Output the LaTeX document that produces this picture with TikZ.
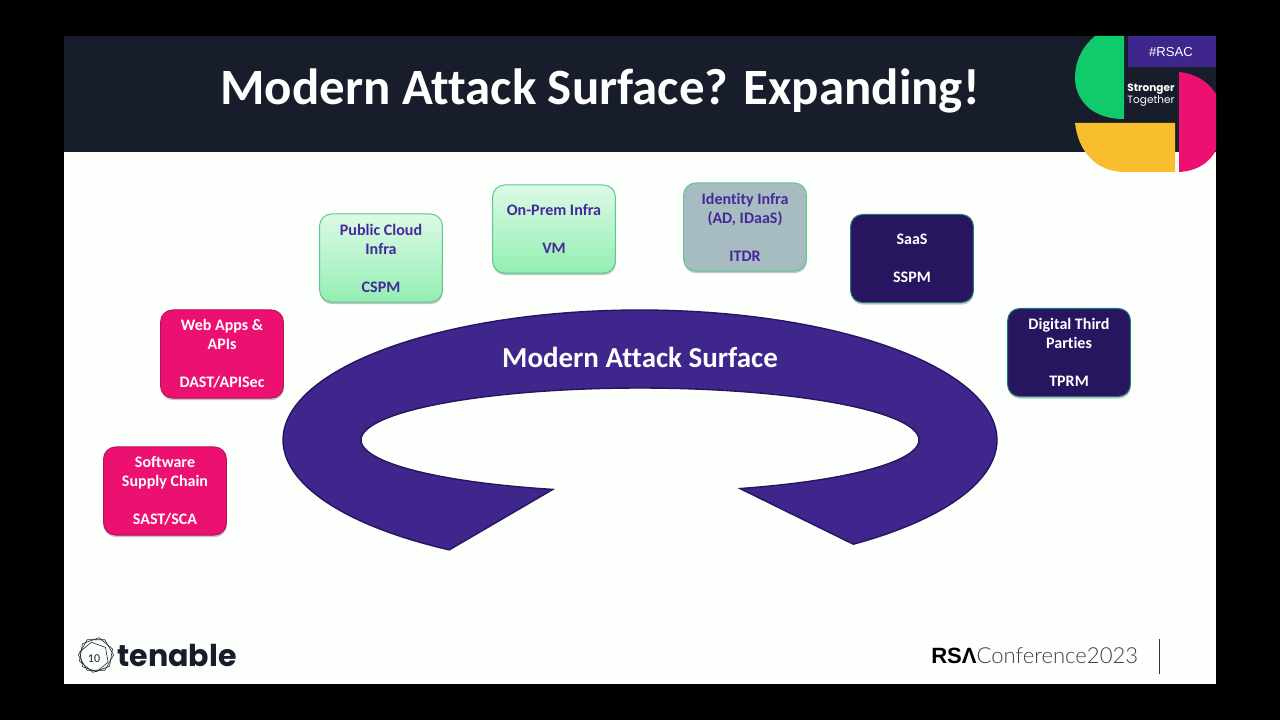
\documentclass[tikz,border=0pt]{standalone}
\usepackage{fontspec}
\setmainfont[Ligatures=NoCommon]{Carlito}
\newfontfamily\logofont{Poppins}
\newfontfamily\rsacfont{Liberation Sans}
\newfontfamily\conffont{Lato Light}
\usetikzlibrary{shadows,shapes.geometric}
\definecolor{slidebg}{HTML}{FCFFFC}
\definecolor{headbg}{HTML}{181D2B}
\definecolor{rsapurple}{HTML}{3F268C}
\definecolor{rsadark}{HTML}{27155F}
\definecolor{rsapink}{HTML}{EC1170}
\definecolor{rsagreen}{HTML}{10CB6C}
\definecolor{rsayellow}{HTML}{F8BE2E}
\definecolor{boxedge}{HTML}{5CC890}
\definecolor{boxmint}{HTML}{93EEB2}
\definecolor{boxgrey}{HTML}{A7BCC0}
\definecolor{boxteal}{HTML}{1E7C7A}
\definecolor{boxtext}{HTML}{47289A}
\tikzset{
  surfacebox/.style={rectangle,rounded corners=0.3cm,minimum width=3.07cm,minimum height=2.2cm,
    align=center,font=\fontsize{11.4}{13.5}\selectfont\bfseries,line width=0.7pt,
    drop shadow={shadow xshift=0.3pt,shadow yshift=-1.5pt,opacity=0.45}},
  pinkbox/.style={surfacebox,draw=rsapink!80!black,fill=rsapink,text=white},
  greenbox/.style={surfacebox,draw=boxedge,top color=slidebg!70!boxmint,bottom color=boxmint,text=boxtext},
  greybox/.style={surfacebox,draw=boxedge,fill=boxgrey,text=boxtext},
  darkbox/.style={surfacebox,draw=boxteal,fill=rsadark,text=white},
  hexlogo/.style={regular polygon,regular polygon sides=6,minimum size=0.88cm,inner sep=0pt,draw=headbg,line width=0.4pt},
}
\begin{document}
\begin{tikzpicture}[x=0.025cm,y=-0.025cm]
\useasboundingbox (0,0) rectangle (1280,720);
\fill[black] (0,0) rectangle (1280,720);
\fill[slidebg] (64,36) rectangle (1216,684);
\fill[headbg] (64,36) rectangle (1216,152);
\node[text=white,font=\fontsize{36.2}{40}\selectfont\bfseries] (title) at (600,91) {Modern Attack Surface? Expanding!};

\fill[rsagreen] (1124,36) -- (1095,36) .. controls (1083,46) and (1075,60) .. (1075,78) .. controls (1075,96) and (1088,119) .. (1124,119) -- cycle;
\fill[rsapurple] (1128,36) rectangle (1216,67);
\node[text=white,font=\rsacfont\fontsize{9.3}{11}\selectfont] (rsac) at (1171,52.5) {\#RSAC};
\fill[rsayellow] (1075,123) -- (1175,123) -- (1175,172) -- (1125,172) .. controls (1095,172) and (1078,150) .. (1075,123) -- cycle;
\fill[rsapink] (1179,72) .. controls (1198,74) and (1210,84) .. (1216,94) -- (1216,150) .. controls (1210,162) and (1198,171) .. (1179,172) -- cycle;
\node[text=white,align=center,font=\logofont\fontsize{7.5}{7.2}\selectfont] (stronger) at (1151,95) {\textbf{Stronger}\\Together};

\fill[rsapurple,draw=rsadark,line width=1pt] plot[domain=53.3:-237.7,samples=120] ({640+357*cos(\x)},{440+130*sin(\x)})
  -- plot[domain=-251.8:69,samples=120] ({640+279*cos(\x)},{440+52*sin(\x)}) -- cycle;
\node[text=white,font=\fontsize{20.6}{24}\selectfont\bfseries] (surface) at (640,357) {Modern Attack Surface};

\node[pinkbox] (chain) at (165,491) {Software\\Supply Chain\\ \\SAST/SCA};
\node[pinkbox] (webapps) at (222,354) {Web Apps \&\\APIs\\ \\DAST/APISec};
\node[greenbox] (cloud) at (381,258) {Public Cloud\\Infra\\ \\CSPM};
\node[greenbox] (onprem) at (554,229) {On-Prem Infra\\ \\VM};
\node[greybox] (identity) at (745,227) {Identity Infra\\(AD, IDaaS)\\ \\ITDR};
\node[darkbox] (saas) at (912,258.5) {SaaS\\ \\SSPM};
\node[darkbox] (third) at (1069,352.5) {Digital Third\\Parties\\ \\TPRM};

\node[hexlogo] (hexa) at (96,655) {};
\node[hexlogo,rotate=20] (hexb) at (96,655) {};
\node[hexlogo,rotate=40,minimum size=0.75cm] (hexc) at (94,657) {};
\node[text=headbg,font=\fontsize{8.5}{9}\selectfont] (page) at (94,659) {10};
\node[text=headbg,anchor=west,inner sep=0pt,font=\logofont\fontsize{21.4}{26}\selectfont\bfseries] (tenable) at (117,655) {tenable};
\node[text=black!75,anchor=west,inner sep=0pt,font=\conffont\fontsize{15.7}{20}\selectfont] (conf) at (931,656) {{\rsacfont\bfseries\color{black}RSΛ}Conference2023};
\draw[black!80,line width=0.6pt] (1159,639) -- (1159,674);
\end{tikzpicture}
\end{document}
